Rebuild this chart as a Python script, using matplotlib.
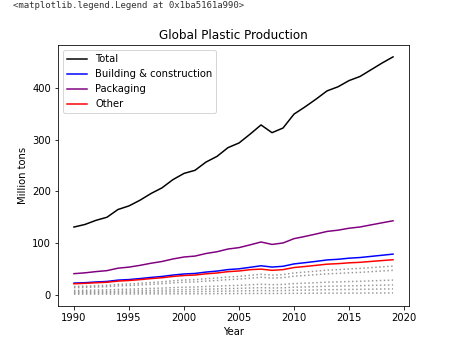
import matplotlib
matplotlib.use("Agg")
import matplotlib.pyplot as plt

years = list(range(1990, 2020))

total = [131, 136, 144, 150, 165, 172, 183, 196, 207, 223,
         235, 241, 257, 268, 285, 294, 311, 329, 314, 323,
         350, 364, 379, 395, 403, 415, 423, 436, 449, 461]
building = [22.3, 23.1, 24.5, 25.5, 28.1, 29.2, 31.1, 33.3, 35.2, 37.9,
            40.0, 41.0, 43.7, 45.6, 48.5, 50.0, 52.9, 55.9, 53.4, 54.9,
            59.5, 61.9, 64.4, 67.2, 68.5, 70.6, 71.9, 74.1, 76.3, 78.5]
packaging = [40.6, 42.2, 44.6, 46.5, 51.2, 53.3, 56.7, 60.8, 64.2, 69.1,
             72.9, 74.7, 79.7, 83.1, 88.4, 91.1, 96.4, 102.0, 97.3, 100.1,
             108.5, 112.8, 117.5, 122.5, 124.9, 128.7, 131.1, 135.2, 139.2, 143.2]
other = [21.0, 21.8, 23.0, 23.9, 26.2, 27.3, 29.0, 31.0, 32.7, 35.2,
         37.0, 37.9, 40.3, 41.9, 44.5, 45.8, 48.3, 49.4, 47.1, 48.4,
         52.5, 54.5, 56.7, 59.0, 60.0, 61.6, 62.6, 64.3, 66.0, 67.6]

# remaining sectors, drawn as faint dotted lines
textiles = [15.7, 16.3, 17.3, 18.0, 19.8, 20.6, 22.0, 23.5, 24.8, 26.8,
            28.2, 28.9, 30.8, 32.2, 34.2, 35.3, 37.3, 39.5, 37.7, 38.8,
            42.0, 43.7, 45.5, 47.4, 48.4, 49.8, 50.8, 52.3, 53.9, 55.3]
consumer = [13.4, 13.9, 14.7, 15.3, 16.8, 17.5, 18.7, 20.0, 21.1, 22.7,
            24.0, 24.6, 26.2, 27.3, 29.1, 30.0, 31.7, 33.6, 32.0, 32.9,
            35.7, 37.1, 38.7, 40.3, 41.1, 42.3, 43.1, 44.5, 45.8, 47.0]
transport = [8.0, 8.3, 8.8, 9.2, 10.1, 10.5, 11.2, 12.0, 12.6, 13.6,
             14.3, 14.7, 15.7, 16.3, 17.4, 17.9, 19.0, 20.1, 19.2, 19.7,
             21.4, 22.2, 23.1, 24.1, 24.6, 25.3, 25.8, 26.6, 27.4, 28.1]
electrical = [5.4, 5.6, 5.9, 6.2, 6.8, 7.1, 7.5, 8.0, 8.5, 9.1,
              9.6, 9.9, 10.5, 11.0, 11.7, 12.1, 12.8, 13.5, 12.9, 13.2,
              14.4, 14.9, 15.5, 16.2, 16.5, 17.0, 17.3, 17.9, 18.4, 18.9]
machinery = [3.1, 3.3, 3.5, 3.6, 4.0, 4.1, 4.4, 4.7, 5.0, 5.4,
             5.6, 5.8, 6.2, 6.4, 6.8, 7.1, 7.5, 7.9, 7.5, 7.8,
             8.4, 8.7, 9.1, 9.5, 9.7, 10.0, 10.2, 10.5, 10.8, 11.1]
misc = [0.9, 1.0, 1.0, 1.1, 1.2, 1.2, 1.3, 1.4, 1.4, 1.6,
        1.6, 1.7, 1.8, 1.9, 2.0, 2.1, 2.2, 2.3, 2.2, 2.3,
        2.5, 2.5, 2.7, 2.8, 2.8, 2.9, 3.0, 3.1, 3.1, 3.2]

fig = plt.figure(figsize=(474 / 72, 348 / 72), dpi=72)
ax = fig.add_axes([58 / 474, 42 / 348, 351 / 474, 261 / 348])

for s in [textiles, consumer, transport, electrical, machinery, misc]:
    ax.plot(years, s, color="gray", linestyle=":", alpha=0.8)

ax.plot(years, total, color="black", label="Total")
ax.plot(years, building, color="blue", label="Building & construction")
ax.plot(years, packaging, color="purple", label="Packaging")
ax.plot(years, other, color="red", label="Other")

ax.set_title("Global Plastic Production")
ax.set_xlabel("Year")
ax.set_ylabel("Million tons")
ax.legend(loc="upper left")

# notebook output line above the figure
fig.text(13 / 474, 1 - 6 / 348, "<matplotlib.legend.Legend at 0x1ba5161a990>",
         family="DejaVu Sans Mono", fontsize=9, color="#333333", va="center")

fig.savefig("out.png", dpi=72)
